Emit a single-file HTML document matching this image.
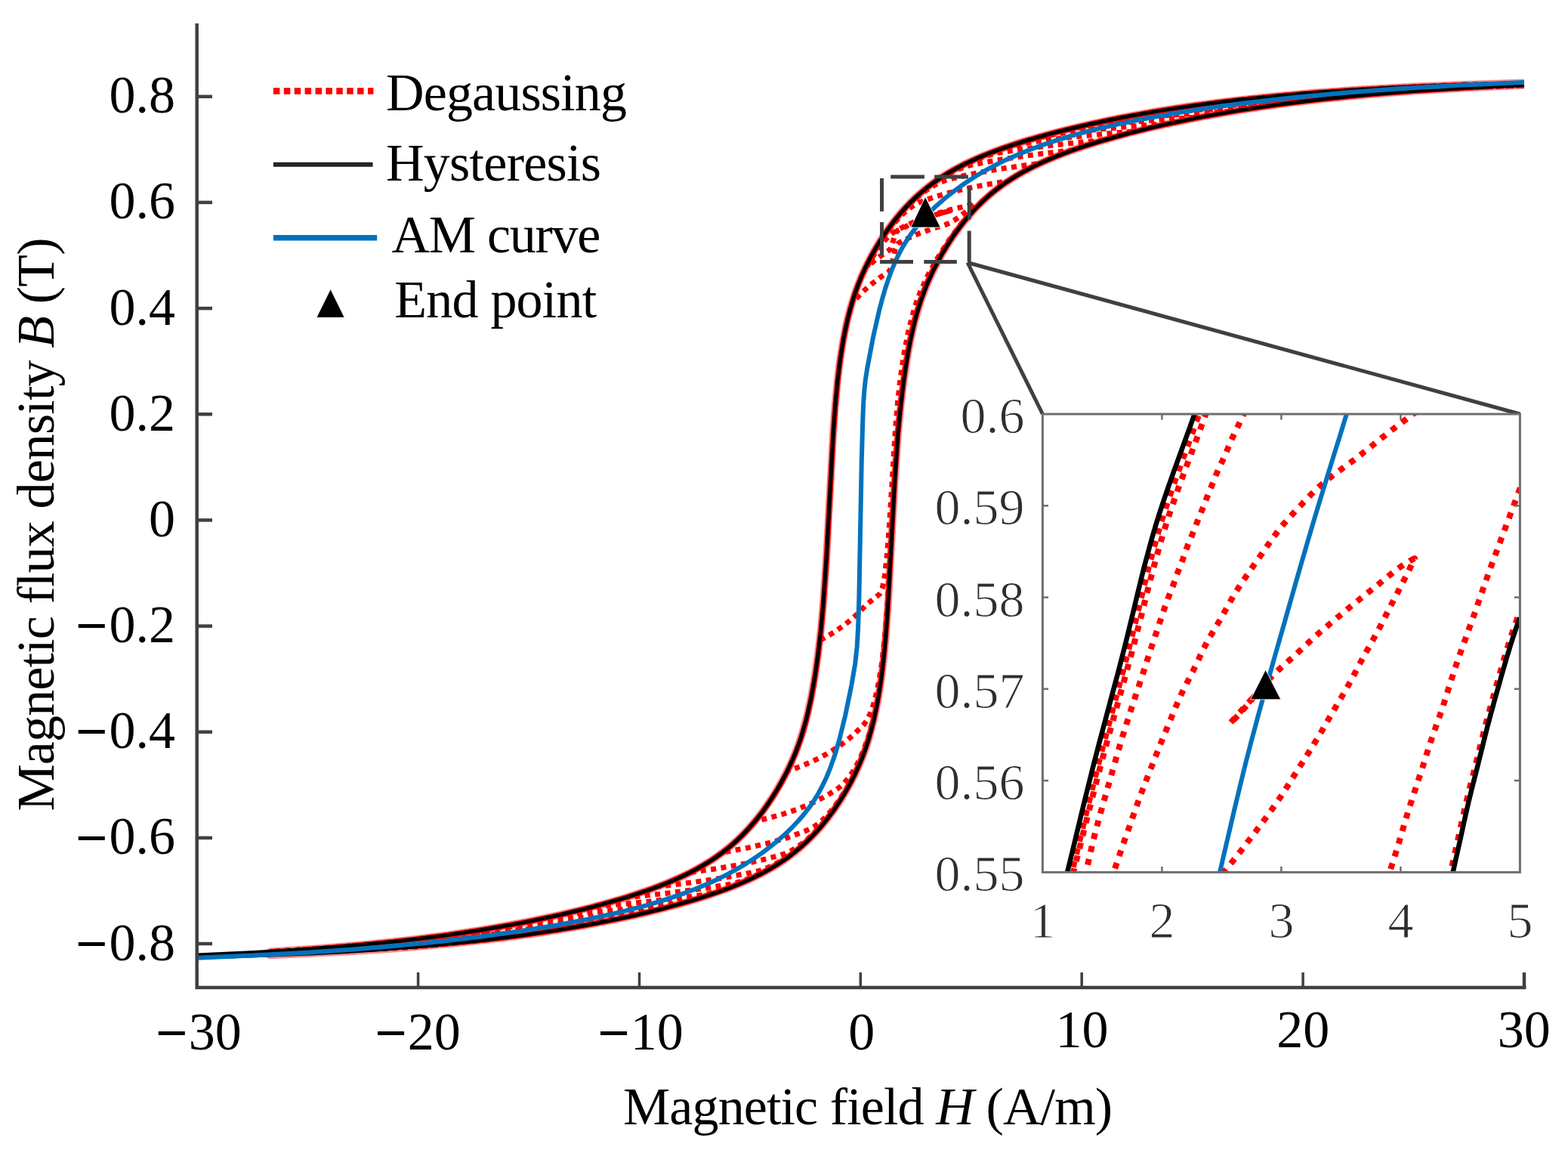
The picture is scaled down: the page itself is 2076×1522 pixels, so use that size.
<!DOCTYPE html><html><head><meta charset="utf-8"><title>Degaussing and AM curve</title><style>html,body{margin:0;padding:0;background:#fff;overflow:hidden}svg{display:block}</style></head><body>
<svg width="2076" height="1522" viewBox="0 0 2076 1522">
<rect width="2076" height="1522" fill="#fff"/>
<defs><clipPath id="cm"><rect x="260.7" y="0" width="1757.3" height="1522"/></clipPath><clipPath id="ci"><rect x="1380.4" y="548" width="632" height="606.4"/></clipPath></defs>
<g clip-path="url(#cm)" fill="none">
<path d="M2018.0 109.6L1940.4 111.9L1869.9 114.8L1804.1 118.3L1742.9 122.5L1686.5 127.4L1632.4 133.1L1580.7 139.7L1531.4 147.3L1482.0 156.2L1435.0 166.1L1390.3 177.1L1350.3 188.6L1317.4 199.9L1302.2 205.9L1288.0 212.0L1274.9 218.3L1262.6 224.8L1251.1 231.6L1240.2 238.7L1230.5 245.8L1221.3 253.2L1212.4 261.1L1203.9 269.4L1195.5 278.3L1187.5 287.8L1179.7 297.7L1172.1 308.4L1164.8 319.6L1157.7 331.3L1151.3 343.0L1145.3 355.1L1140.0 366.9L1135.2 379.0L1130.8 391.5L1126.8 404.4L1120.9 427.4L1116.0 452.4L1111.7 479.9L1108.2 509.9L1105.4 541.2L1102.9 576.9L1094.4 734.2L1090.0 798.3L1087.0 831.8L1083.3 863.8L1079.2 892.9L1074.6 919.2L1068.9 945.8L1062.6 969.1L1055.3 990.6L1046.7 1011.3L1035.8 1032.9L1023.4 1054.0L1008.9 1075.1L995.5 1091.6L986.6 1101.4L977.7 1110.3L968.8 1118.3L959.9 1125.6L951.0 1132.3L939.9 1139.8L928.8 1146.6L915.5 1153.9L902.1 1160.4L888.8 1166.3L859.9 1177.6L824.3 1189.2L786.5 1199.9L742.0 1210.7L695.3 1220.5L644.2 1229.7L593.1 1237.5L539.7 1244.2L481.9 1250.2L421.8 1255.2L357.4 1259.4L357.4 1264.2L459.6 1259.4L506.3 1256.5L550.8 1253.1L608.6 1247.8L664.2 1241.5L717.6 1234.2L768.7 1225.9L815.4 1216.9L857.7 1207.5L897.7 1197.2L935.5 1185.9L966.6 1174.9L993.3 1163.6L1006.6 1157.1L1017.8 1151.1L1028.4 1144.7L1038.3 1138.2L1047.8 1131.3L1057.1 1123.9L1065.9 1116.1L1074.4 1107.9L1082.6 1099.2L1090.6 1089.8L1098.4 1079.9L1105.9 1069.5L1113.2 1058.4L1120.2 1046.9L1126.7 1035.2L1132.7 1023.3L1137.9 1011.7L1142.8 999.8L1147.2 987.6L1151.1 975.0L1157.1 952.1L1162.3 927.1L1166.7 899.3L1170.3 868.6L1173.1 837.8L1175.6 802.7L1184.4 640.6L1188.9 575.3L1192.3 539.7L1196.1 507.6L1200.5 477.7L1205.3 451.0L1211.5 424.0L1218.4 400.4L1226.6 378.1L1236.3 356.7L1248.4 334.1L1262.0 312.6L1276.5 293.1L1291.9 275.5L1301.2 266.4L1310.8 257.7L1319.8 250.4L1331.5 241.8L1343.3 234.2L1355.0 227.3L1369.1 220.0L1383.3 213.4L1397.4 207.4L1413.8 201.1L1432.6 194.5L1451.4 188.5L1493.7 176.5L1540.8 165.1L1590.1 154.9L1641.8 145.9L1695.9 137.9L1752.3 131.1L1811.1 125.3L1874.6 120.3L1942.8 116.2L2018.0 112.8" stroke="#ff0000" stroke-width="10" stroke-opacity="0.45" stroke-linejoin="round"/>
<path d="M2105.1 110.0L1995.0 111.1L1940.8 112.0L1865.8 115.0L1790.8 119.1L1720.8 124.3L1655.8 130.5L1594.6 137.9L1536.6 146.4L1479.8 156.6L1426.2 168.2L1401.1 174.3L1377.3 180.7L1355.1 187.3L1334.6 193.9L1316.4 200.4L1299.4 207.1L1283.9 214.0L1269.6 221.2L1256.1 228.7L1243.5 236.7L1231.5 245.2L1220.4 254.2L1204.6 269.0L1189.6 285.5L1175.3 304.2L1162.1 324.3L1150.4 345.2L1140.4 366.5L1132.2 387.9L1125.2 411.1L1119.9 433.1L1115.5 456.2L1111.4 483.7L1108.2 511.9L1105.6 541.7L1102.9 579.9L1094.7 732.8L1090.4 797.7L1087.1 833.1L1083.6 863.9L1079.5 893.1L1075.1 918.8L1069.6 945.0L1063.4 968.0L1056.1 989.8L1047.6 1010.3L1036.8 1032.0L1024.5 1053.0L1011.0 1072.7L996.9 1090.4L988.4 1099.9L979.7 1108.8L970.6 1117.1L960.9 1125.1L951.0 1132.6L940.4 1139.7L929.3 1146.5L917.6 1152.9L905.0 1159.2L891.5 1165.3L861.9 1176.9L827.7 1188.3L788.7 1199.4L744.2 1210.3L696.5 1220.4L646.7 1229.4L594.6 1237.3L540.4 1244.2L483.3 1250.1L422.7 1255.2L357.7 1259.4L436.1 1257.8L503.5 1256.0L538.3 1253.9L582.6 1250.3L643.5 1244.0L701.7 1236.5L757.1 1227.8L809.5 1218.0L844.1 1210.6L876.6 1202.7L907.0 1194.5L934.8 1186.0L959.4 1177.5L981.7 1168.6L1001.9 1159.3L1020.0 1149.6L1036.7 1139.1L1052.0 1127.9L1066.3 1115.5L1079.8 1101.9L1093.0 1086.5L1105.3 1070.0L1117.0 1051.9L1127.5 1033.1L1134.5 1018.8L1141.0 1003.8L1146.6 988.7L1151.5 972.8L1155.9 956.2L1160.0 937.6L1163.5 918.4L1166.8 897.0L1170.9 861.1L1174.4 818.1L1177.3 770.5L1184.6 632.8L1187.3 593.2L1189.9 561.1L1193.7 524.3L1198.1 490.9L1203.1 460.7L1208.6 433.9L1215.4 408.5L1223.6 384.5L1233.5 361.3L1245.2 338.9L1259.3 316.1L1274.2 295.5L1282.1 285.9L1290.0 277.1L1298.5 268.5L1307.0 260.7L1317.3 252.1L1327.8 244.2L1338.9 236.7L1350.7 229.6L1363.2 222.8L1376.7 216.2L1391.4 209.7L1406.9 203.5L1424.2 197.3L1442.6 191.1L1483.9 179.0L1529.6 167.6L1578.5 157.2L1628.0 148.1L1679.5 140.1L1733.7 133.1L1790.5 127.1L1850.8 122.0L1915.5 117.7L1985.5 114.1L2062.2 111.2L1961.5 112.4L1903.2 113.5L1837.3 116.4L1767.9 120.7L1699.7 126.2L1636.1 132.7L1576.1 140.4L1519.3 149.4L1464.2 159.8L1412.6 171.4L1388.6 177.6L1366.1 183.9L1345.0 190.4L1325.7 197.0L1308.4 203.5L1292.3 210.2L1277.6 217.1L1263.9 224.2L1251.0 231.8L1239.0 239.8L1227.6 248.3L1216.7 257.4L1201.2 272.4L1186.5 289.2L1172.8 307.8L1159.9 328.0L1148.8 348.4L1139.1 369.6L1131.2 391.0L1124.5 413.9L1119.2 436.7L1114.8 460.6L1111.0 487.2L1107.8 516.5L1105.4 543.8L1103.1 577.7L1094.9 730.4L1090.5 796.1L1087.6 828.9L1084.0 860.5L1080.2 888.4L1075.8 915.0L1070.6 940.7L1064.4 964.6L1057.7 985.4L1049.5 1006.0L1039.5 1026.8L1027.8 1047.6L1014.9 1067.3L1001.5 1085.0L993.3 1094.6L984.8 1103.7L976.3 1112.0L967.2 1120.0L957.8 1127.5L947.9 1134.8L937.6 1141.5L926.8 1147.9L915.3 1154.1L903.0 1160.1L876.1 1171.6L845.1 1182.8L809.9 1193.6L767.7 1204.7L722.3 1215.1L674.6 1224.5L624.5 1232.9L573.0 1240.2L518.8 1246.6L461.4 1252.1L400.5 1256.7L476.0 1254.9L543.7 1252.8L570.9 1251.1L605.5 1248.0L662.9 1241.7L718.8 1234.0L771.8 1225.3L822.5 1215.3L855.9 1207.8L887.5 1199.9L916.5 1191.7L943.1 1183.2L966.6 1174.8L988.0 1165.9L1007.0 1156.8L1024.6 1146.9L1040.7 1136.4L1055.6 1124.9L1069.7 1112.3L1082.8 1098.5L1095.7 1083.0L1107.7 1066.4L1119.2 1048.2L1129.4 1029.4L1136.1 1015.2L1142.3 1000.4L1147.6 985.7L1152.3 970.3L1156.6 953.2L1160.5 935.5L1164.0 915.8L1166.9 895.9L1171.0 859.7L1174.5 816.0L1177.4 767.9L1184.5 635.3L1187.1 595.2L1189.7 562.7L1193.3 528.1L1197.6 493.9L1202.6 463.1L1207.9 437.1L1214.6 411.0L1222.2 388.0L1231.6 365.4L1243.0 342.8L1256.5 320.3L1271.2 299.5L1278.8 289.9L1286.7 280.8L1294.9 272.1L1303.1 264.2L1312.7 255.8L1323.0 247.7L1333.5 240.2L1344.7 233.1L1356.7 226.2L1369.3 219.7L1382.7 213.5L1397.1 207.4L1412.9 201.3L1430.2 195.2L1468.3 183.4L1511.0 172.1L1557.6 161.4L1605.3 152.1L1655.4 143.7L1707.5 136.4L1762.3 130.0L1819.7 124.5L1881.2 119.9L1947.4 116.0L2019.4 112.7L1926.9 114.0L1864.8 115.3L1807.7 118.1L1743.9 122.4L1677.4 128.3L1615.3 135.2L1556.4 143.3L1500.5 152.7L1447.8 163.3L1398.6 175.0L1376.0 181.1L1354.6 187.4L1334.7 193.8L1316.6 200.3L1300.2 206.8L1285.2 213.4L1271.2 220.3L1258.0 227.6L1245.7 235.2L1234.0 243.4L1223.2 251.9L1212.6 261.1L1197.7 276.2L1183.6 292.9L1170.2 311.6L1157.9 331.5L1147.0 352.0L1137.9 372.5L1130.3 393.6L1123.9 416.1L1118.9 438.0L1114.5 462.4L1111.0 487.1L1107.8 516.4L1105.1 547.5L1102.8 582.3L1094.9 730.3L1090.5 796.0L1087.6 828.8L1084.3 858.0L1080.5 886.4L1076.4 911.7L1071.2 938.1L1065.6 960.4L1059.2 981.2L1051.5 1001.2L1042.2 1021.6L1031.3 1041.6L1019.0 1061.3L1006.2 1079.1L998.2 1088.9L990.3 1097.9L982.1 1106.3L973.6 1114.4L964.9 1121.9L955.8 1129.1L946.1 1135.9L936.2 1142.4L914.5 1154.5L889.9 1166.0L862.1 1176.9L830.1 1187.5L791.2 1198.7L748.2 1209.4L702.5 1219.2L654.7 1228.0L605.5 1235.8L554.3 1242.6L500.4 1248.5L443.3 1253.6L516.8 1251.5L584.4 1249.0L605.5 1247.6L632.2 1245.1L684.6 1238.9L737.6 1231.1L788.0 1222.3L835.7 1212.5L867.9 1204.9L898.1 1197.0L925.9 1188.8L951.1 1180.5L973.6 1172.0L993.8 1163.2L1012.3 1153.9L1029.0 1144.2L1044.5 1133.6L1059.1 1121.9L1072.9 1109.1L1085.8 1095.2L1098.4 1079.5L1110.1 1062.8L1121.2 1044.7L1131.2 1025.9L1137.6 1011.9L1143.5 997.3L1148.5 982.9L1153.1 967.1L1157.2 950.6L1161.0 932.4L1164.3 913.9L1167.2 893.7L1171.0 859.6L1174.5 816.0L1177.4 767.9L1184.5 635.2L1189.4 566.0L1193.0 530.7L1197.4 496.0L1202.0 466.4L1207.3 439.7L1213.8 414.0L1221.4 390.4L1230.2 368.6L1241.0 346.6L1253.9 324.4L1268.2 303.4L1283.2 284.7L1291.1 276.1L1299.3 267.8L1308.3 259.5L1318.0 251.5L1328.3 243.9L1338.8 236.8L1349.9 230.0L1361.6 223.6L1374.2 217.3L1387.7 211.3L1402.3 205.3L1418.2 199.4L1453.3 187.8L1493.1 176.6L1536.5 166.0L1582.4 156.4L1630.8 147.6L1681.1 139.9L1733.5 133.2L1788.6 127.3L1846.9 122.3L1909.3 118.1L1976.6 114.5L1890.2 115.9L1825.5 117.5L1777.2 120.1L1719.8 124.4L1655.1 130.6L1594.2 137.9L1536.5 146.5L1481.4 156.3L1430.8 167.1L1384.2 178.8L1362.8 184.9L1342.9 191.1L1324.5 197.4L1307.5 203.8L1292.3 210.2L1277.9 216.9L1264.7 223.8L1252.1 231.1L1240.4 238.8L1229.3 246.9L1218.8 255.6L1208.8 264.7L1194.2 280.2L1180.4 297.1L1167.2 316.1L1155.2 336.2L1145.0 356.3L1136.5 376.2L1129.2 397.3L1123.0 419.6L1118.0 442.4L1113.9 466.1L1110.4 491.8L1107.5 519.4L1105.1 547.4L1102.8 582.1L1094.9 730.1L1090.8 792.1L1088.2 822.6L1084.9 853.0L1081.4 880.2L1077.3 906.6L1072.4 932.7L1066.8 956.1L1060.6 976.8L1053.6 996.2L1045.1 1015.6L1034.9 1035.4L1023.5 1054.6L1011.2 1072.5L996.2 1091.3L988.3 1100.0L980.4 1108.1L972.2 1115.7L963.4 1123.1L945.3 1136.5L925.1 1148.9L902.8 1160.2L877.6 1171.0L848.9 1181.5L813.5 1192.5L773.7 1203.3L730.6 1213.3L685.2 1222.5L638.7 1230.7L590.1 1237.9L539.4 1244.3L486.1 1249.9L555.8 1247.6L620.5 1244.8L639.9 1243.6L662.7 1241.4L708.7 1235.5L757.6 1227.8L804.5 1219.1L849.3 1209.4L880.0 1201.8L908.7 1194.0L935.1 1185.9L958.8 1177.7L980.2 1169.3L999.5 1160.5L1017.1 1151.3L1033.2 1141.5L1048.4 1130.6L1062.5 1119.0L1076.0 1106.0L1088.6 1091.9L1100.9 1076.2L1112.6 1059.0L1123.4 1040.8L1132.8 1022.5L1138.9 1008.8L1144.5 994.5L1149.5 979.7L1153.9 964.4L1158.0 947.4L1161.5 930.1L1164.7 911.2L1167.6 890.3L1171.4 855.0L1174.7 813.9L1177.6 765.3L1184.3 637.7L1189.3 567.7L1192.8 532.0L1196.9 499.1L1201.6 468.9L1206.9 441.7L1213.0 416.6L1220.3 393.2L1228.8 371.6L1238.8 350.7L1251.4 328.4L1265.2 307.6L1279.8 288.7L1295.0 272.0L1303.8 263.5L1312.9 255.6L1322.3 248.2L1332.2 241.1L1342.8 234.3L1353.6 227.9L1365.3 221.7L1377.9 215.6L1405.7 204.0L1437.7 192.7L1474.0 181.8L1514.4 171.2L1558.6 161.2L1605.2 152.1L1653.5 144.0L1703.9 136.8L1756.3 130.6L1811.7 125.2L1870.5 120.6L1933.8 116.7L1852.1 118.2L1785.6 120.0L1745.2 122.4L1694.8 126.6L1631.8 133.2L1572.1 141.0L1515.6 150.0L1461.7 160.3L1413.7 171.2L1370.0 182.8L1350.1 188.8L1331.7 194.9L1314.4 201.2L1298.6 207.5L1284.2 213.9L1270.7 220.5L1258.2 227.5L1246.1 234.9L1235.0 242.6L1224.5 250.8L1214.2 259.6L1204.6 269.0L1190.5 284.4L1177.0 301.7L1164.4 320.5L1153.0 340.2L1143.4 359.8L1135.2 379.7L1128.1 400.7L1122.3 422.7L1117.9 443.2L1113.8 467.1L1110.3 493.1L1107.3 521.1L1102.6 584.8L1095.0 727.8L1090.9 790.4L1088.3 821.3L1085.4 849.4L1082.1 875.1L1078.3 900.6L1073.7 926.4L1068.4 949.9L1062.5 970.9L1056.1 989.8L1048.2 1009.0L1038.8 1028.2L1028.3 1046.8L1016.5 1064.9L1002.2 1084.1L987.3 1101.1L971.4 1116.3L954.5 1130.0L936.0 1142.5L915.5 1154.0L892.7 1164.8L866.9 1175.1L835.0 1186.0L798.7 1196.7L758.8 1206.9L716.4 1216.4L672.4 1224.9L626.5 1232.6L578.7 1239.5L528.9 1245.5L588.7 1243.2L644.9 1240.5L675.1 1238.8L696.7 1236.7L735.4 1231.3L779.3 1223.9L822.1 1215.4L862.8 1206.2L892.4 1198.6L919.6 1190.8L944.5 1182.8L967.0 1174.6L987.2 1166.2L1005.7 1157.4L1022.4 1148.2L1037.9 1138.3L1052.5 1127.4L1066.3 1115.5L1079.5 1102.2L1091.8 1088.0L1103.8 1072.1L1115.2 1054.8L1125.5 1037.0L1134.5 1018.8L1140.4 1005.2L1145.7 991.2L1150.4 976.8L1154.7 961.0L1158.6 944.7L1162.1 926.9L1165.3 907.3L1167.9 887.9L1171.7 851.7L1175.0 809.5L1184.3 637.7L1189.0 571.1L1192.5 534.7L1196.3 503.4L1201.0 472.3L1206.0 445.8L1212.1 419.9L1218.9 397.5L1226.8 376.5L1236.5 355.3L1248.5 333.3L1261.6 312.6L1275.7 293.7L1290.6 276.5L1298.8 268.2L1307.6 260.1L1316.4 252.8L1325.8 245.6L1335.7 238.8L1346.0 232.3L1356.8 226.2L1368.2 220.2L1393.4 208.9L1422.4 197.9L1455.5 187.1L1492.4 176.8L1534.3 166.5L1578.8 157.1L1625.4 148.5L1673.7 141.0L1723.8 134.3L1776.5 128.5L1831.8 123.5L1891.0 119.2L1813.1 121.0L1745.4 123.1L1711.8 125.3L1668.7 129.2L1607.5 136.2L1549.2 144.4L1493.6 154.0L1441.2 164.7L1395.8 175.7L1355.1 187.3L1336.6 193.2L1319.6 199.2L1303.8 205.3L1289.2 211.6L1275.7 218.0L1263.1 224.7L1251.1 231.7L1240.0 239.1L1229.5 246.8L1219.2 255.2L1209.5 264.0L1200.2 273.5L1186.4 289.4L1173.5 306.7L1161.2 325.7L1150.4 345.2L1141.3 364.4L1133.7 383.7L1127.0 404.7L1121.4 426.4L1117.0 447.8L1113.2 470.9L1110.0 495.5L1107.1 524.2L1102.7 584.6L1095.0 727.5L1091.2 786.4L1088.9 814.8L1086.0 844.0L1082.7 870.6L1079.2 895.0L1074.8 920.3L1069.9 943.8L1064.3 965.0L1058.1 984.1L1051.1 1002.2L1042.6 1020.7L1033.0 1038.8L1022.1 1056.6L1008.7 1075.9L994.3 1093.5L979.4 1109.0L963.3 1123.2L946.0 1136.0L927.2 1147.7L906.5 1158.5L883.3 1168.7L854.9 1179.4L822.4 1189.9L786.4 1200.0L747.2 1209.6L705.9 1218.5L662.8 1226.6L618.3 1233.9L571.7 1240.4L673.6 1235.4L714.9 1232.9L732.8 1231.0L764.4 1226.4L801.9 1219.5L840.0 1211.5L876.3 1202.8L904.4 1195.2L930.2 1187.5L953.6 1179.6L975.0 1171.4L994.0 1163.1L1011.6 1154.3L1027.7 1145.0L1042.6 1135.0L1056.7 1124.0L1070.1 1111.8L1082.7 1098.7L1094.7 1084.3L1106.4 1068.3L1117.6 1050.9L1127.5 1033.1L1136.3 1014.9L1142.2 1000.8L1147.1 986.9L1151.5 972.8L1155.6 957.4L1159.4 940.5L1162.7 923.6L1165.6 905.3L1168.2 885.5L1171.7 851.6L1175.0 809.4L1184.3 637.7L1189.0 571.1L1192.2 537.4L1196.0 505.5L1200.4 475.8L1205.4 448.6L1211.3 423.2L1217.7 401.0L1225.3 380.0L1234.4 359.5L1245.5 338.4L1258.1 317.8L1271.6 298.9L1285.9 281.6L1293.8 273.2L1302.0 265.2L1310.5 257.6L1319.3 250.5L1328.4 243.8L1338.1 237.2L1358.6 225.2L1381.7 213.9L1407.7 203.2L1437.6 192.7L1471.0 182.6L1510.2 172.2L1552.7 162.5L1596.9 153.6L1643.2 145.6L1690.9 138.5L1740.7 132.3L1792.8 126.9L1848.1 122.2L1772.6 124.2L1704.6 126.7L1676.8 128.6L1641.1 132.2L1582.5 139.5L1525.4 148.3L1471.5 158.3L1420.6 169.5L1378.4 180.4L1340.9 191.8L1324.2 197.5L1308.4 203.5L1293.7 209.6L1280.0 215.9L1267.4 222.3L1255.4 229.1L1244.2 236.2L1233.7 243.6L1223.5 251.6L1213.8 260.0L1204.4 269.1L1195.6 278.5L1182.4 294.5L1169.9 312.1L1158.1 331.0L1147.9 350.2L1139.4 368.9L1132.1 388.3L1125.9 408.4L1120.4 431.1L1116.3 452.0L1112.7 474.1L1109.5 499.5L1106.9 526.0L1102.5 587.3L1095.2 725.3L1091.7 780.7L1086.7 837.4L1083.8 862.8L1080.2 888.4L1076.1 913.4L1071.4 936.8L1066.5 957.3L1060.6 976.9L1054.2 994.8L1046.6 1012.5L1037.8 1030.1L1027.8 1047.6L1014.9 1067.3L1001.5 1085.0L987.1 1101.3L971.9 1116.0L955.8 1129.1L938.5 1140.9L919.4 1151.9L898.4 1162.3L873.2 1172.7L844.8 1182.9L812.8 1192.7L777.4 1202.3L739.3 1211.4L699.2 1219.8L657.6 1227.5L614.6 1234.4L705.9 1229.4L756.6 1225.8L770.4 1224.3L795.3 1220.5L825.4 1214.6L857.9 1207.3L889.6 1199.3L916.2 1191.8L940.5 1184.1L962.5 1176.3L982.7 1168.2L1000.8 1159.9L1017.5 1151.0L1032.8 1141.7L1047.1 1131.6L1060.9 1120.4L1073.8 1108.2L1086.1 1094.9L1097.8 1080.3L1109.2 1064.2L1120.0 1046.7L1129.7 1028.8L1137.9 1011.2L1143.2 998.1L1147.9 984.8L1152.3 970.3L1156.1 955.6L1159.6 939.8L1162.8 922.8L1165.7 904.3L1168.4 884.3L1171.9 850.0L1175.1 807.3L1184.2 640.2L1188.9 572.8L1192.1 538.8L1195.9 506.6L1200.0 478.5L1204.7 452.3L1210.2 427.2L1216.4 405.2L1223.4 384.9L1231.9 364.8L1242.5 343.9L1254.5 323.5L1267.3 304.6L1281.1 287.1L1296.3 270.7L1312.4 256.0L1330.0 242.6L1349.1 230.5L1370.1 219.3L1393.6 208.8L1420.2 198.6L1450.4 188.7L1486.7 178.3L1526.2 168.4L1568.4 159.2L1612.3 150.8L1657.4 143.4L1704.6 136.7L1753.8 130.9L1805.3 125.8L1731.2 128.1L1663.3 130.9L1640.2 132.7L1611.2 135.8L1555.8 143.4L1500.8 152.7L1448.4 163.2L1399.7 174.7L1360.8 185.5L1326.2 196.8L1310.7 202.6L1296.4 208.4L1282.9 214.5L1270.3 220.8L1258.6 227.2L1247.5 234.1L1236.9 241.2L1227.0 248.8L1217.3 256.9L1208.2 265.3L1199.1 274.6L1190.7 284.3L1178.1 300.3L1166.1 317.9L1155.2 336.2L1145.6 355.0L1137.6 373.2L1130.6 392.7L1124.8 412.7L1119.5 435.2L1115.7 455.3L1112.2 478.2L1109.2 502.1L1106.6 529.2L1102.5 587.1L1095.2 725.0L1092.0 776.5L1087.3 831.6L1081.4 880.3L1077.3 906.6L1072.9 929.9L1068.2 950.4L1063.0 969.5L1057.1 987.0L1050.4 1004.0L1042.5 1021.0L1033.7 1037.5L1021.7 1057.3L1008.5 1076.1L995.0 1092.6L980.7 1107.8L965.7 1121.2L949.6 1133.5L932.1 1144.9L913.0 1155.3L891.1 1165.5L866.2 1175.4L838.1 1185.0L807.0 1194.4L772.8 1203.5L735.9 1212.2L697.5 1220.2L657.4 1227.6L740.5 1222.3L785.1 1218.8L808.5 1216.5L827.5 1213.5L850.7 1208.8L876.7 1202.6L903.1 1195.6L928.0 1188.2L950.8 1180.6L971.6 1172.8L990.3 1164.8L1007.6 1156.4L1023.4 1147.6L1038.1 1138.2L1051.5 1128.2L1065.0 1116.7L1077.6 1104.3L1089.6 1090.7L1101.0 1076.0L1112.1 1059.7L1122.4 1042.6L1131.5 1025.3L1139.4 1007.7L1144.4 994.9L1149.0 981.1L1153.1 967.1L1156.9 951.9L1160.5 935.4L1163.4 919.3L1168.7 881.8L1172.2 846.6L1175.1 807.2L1184.2 640.2L1188.6 576.3L1191.8 541.5L1195.3 511.1L1199.4 482.2L1203.8 456.8L1209.1 432.0L1214.9 410.0L1221.7 389.6L1229.6 370.0L1239.2 349.9L1250.7 329.6L1263.0 310.7L1276.1 293.1L1290.5 276.7L1305.7 261.8L1322.1 248.3L1339.7 236.2L1359.0 225.0L1380.4 214.5L1404.1 204.6L1431.0 194.9L1463.8 184.7L1500.4 174.7L1539.7 165.3L1581.3 156.6L1624.0 148.8L1668.2 141.8L1714.5 135.5L1762.5 129.9L1689.3 132.7L1621.4 136.0L1602.3 137.5L1578.6 140.3L1527.7 148.0L1475.0 157.6L1425.5 168.3L1379.8 180.0L1343.8 190.8L1312.5 201.9L1285.2 213.4L1272.9 219.4L1261.2 225.7L1250.4 232.2L1239.8 239.2L1229.9 246.5L1220.2 254.3L1211.2 262.5L1202.4 271.2L1193.9 280.5L1185.7 290.3L1173.4 306.9L1162.0 324.5L1151.7 342.7L1142.6 361.4L1135.3 379.3L1128.9 398.2L1123.3 418.4L1118.3 440.9L1114.8 460.5L1111.6 482.4L1108.7 507.4L1106.3 532.5L1102.2 591.8L1095.5 719.5L1092.0 776.2L1087.6 828.5L1082.3 873.8L1078.5 899.5L1074.4 922.5L1070.0 943.1L1065.3 961.4L1060.1 978.6L1053.9 995.4L1047.2 1011.2L1039.3 1027.3L1028.1 1047.0L1015.9 1065.9L1003.0 1083.2L989.5 1098.8L975.4 1112.7L960.5 1125.4L944.4 1137.1L927.1 1147.7L907.8 1157.9L886.1 1167.6L862.1 1176.9L835.2 1186.0L805.0 1194.9L771.9 1203.7L736.8 1212.0L700.2 1219.7L778.4 1214.0L847.5 1207.5L861.9 1205.1L878.9 1201.5L897.9 1196.8L918.1 1191.1L940.9 1183.9L962.0 1176.5L981.4 1168.8L998.9 1160.8L1015.0 1152.4L1030.0 1143.5L1043.7 1134.1L1056.9 1123.8L1069.8 1112.1L1081.8 1099.7L1093.5 1085.8L1104.7 1070.9L1115.2 1054.8L1125.2 1037.5L1133.7 1020.7L1141.3 1003.0L1146.0 990.4L1150.3 976.8L1154.4 962.1L1158.0 947.4L1164.1 914.9L1169.1 878.0L1172.3 845.0L1175.2 805.0L1184.0 642.7L1188.4 578.1L1191.4 545.9L1194.9 514.6L1198.7 487.0L1203.1 460.7L1208.0 436.4L1213.6 414.5L1220.1 394.1L1227.4 375.0L1236.5 355.3L1246.7 336.3L1258.4 317.4L1270.7 300.0L1284.2 283.6L1298.5 268.5L1313.8 254.9L1330.2 242.5L1348.0 231.1L1367.4 220.7L1389.0 210.7L1413.1 201.2L1442.6 191.1L1475.4 181.4L1511.5 171.9L1550.1 163.0L1590.2 154.9L1631.8 147.5L1674.9 140.8L1719.7 134.8L1651.5 137.8L1587.3 141.3L1566.8 142.8L1544.0 145.7L1497.7 153.3L1448.2 163.2L1401.9 174.1L1360.1 185.7L1327.6 196.3L1298.9 207.4L1286.0 213.1L1273.7 219.0L1262.3 225.1L1251.4 231.6L1241.2 238.3L1231.5 245.2L1222.1 252.7L1213.1 260.7L1204.6 269.0L1196.1 278.0L1187.9 287.6L1180.0 297.7L1168.5 314.1L1158.0 331.2L1148.3 349.3L1140.1 367.1L1133.1 385.3L1127.2 403.7L1122.0 423.9L1117.3 446.3L1113.8 467.1L1110.8 488.3L1108.2 511.9L1105.9 538.1L1102.1 594.6L1095.6 717.2L1092.4 770.2L1088.3 821.2L1083.6 863.9L1080.1 889.3L1076.3 912.5L1072.2 933.4L1067.8 952.2L1063.1 969.0L1057.8 985.0L1051.7 1000.9L1045.0 1015.9L1035.0 1035.2L1023.6 1054.4L1011.6 1071.9L998.7 1088.4L985.5 1103.0L971.7 1116.1L956.8 1128.3L941.0 1139.3L924.0 1149.5L905.3 1159.1L884.5 1168.3L861.6 1177.0L835.9 1185.7L807.2 1194.3L776.1 1202.6L743.0 1210.6L818.3 1204.3L886.5 1197.0L897.1 1195.3L909.1 1192.7L936.3 1185.2L956.2 1178.5L975.5 1171.1L993.1 1163.5L1009.5 1155.4L1024.4 1147.0L1038.5 1137.9L1051.4 1128.3L1063.7 1117.9L1075.7 1106.3L1087.4 1093.3L1098.5 1079.3L1109.1 1064.4L1119.3 1047.9L1128.4 1031.4L1136.3 1014.9L1143.3 997.7L1147.7 985.2L1151.8 971.8L1155.6 957.4L1158.8 943.3L1164.7 911.1L1169.4 875.3L1172.3 844.9L1175.2 805.0L1184.0 642.7L1188.1 581.7L1191.1 548.8L1194.3 519.4L1197.8 492.9L1201.9 467.2L1206.6 443.1L1211.9 421.0L1217.7 401.0L1224.4 382.2L1232.6 363.2L1242.0 344.7L1252.6 326.5L1264.3 308.8L1277.2 291.9L1290.6 276.5L1305.0 262.5L1320.2 249.8L1336.6 238.2L1354.2 227.6L1373.8 217.6L1395.5 208.0L1421.5 198.2L1450.8 188.6L1483.3 179.2L1518.4 170.2L1555.9 161.8L1594.9 154.0L1635.3 146.9L1676.9 140.5L1615.7 143.6L1557.7 147.2L1529.3 149.3L1507.3 152.1L1466.3 159.5L1420.7 169.5L1378.2 180.5L1340.4 191.9L1310.6 202.6L1284.5 213.8L1272.5 219.6L1261.4 225.6L1250.8 231.9L1240.9 238.5L1231.2 245.5L1222.1 252.7L1213.4 260.4L1204.9 268.7L1196.7 277.4L1188.5 286.9L1180.8 296.6L1173.2 307.1L1162.7 323.3L1153.0 340.2L1144.5 357.2L1137.2 374.3L1130.8 392.2L1125.2 411.0L1120.5 430.3L1116.1 452.7L1112.9 472.9L1110.3 493.0L1105.6 541.6L1102.1 594.3L1095.6 716.8L1092.7 765.6L1088.9 814.7L1084.5 856.6L1081.3 881.2L1077.8 903.9L1074.0 924.8L1070.2 942.5L1065.8 959.8L1061.1 975.5L1055.8 990.5L1050.0 1004.9L1041.2 1023.6L1030.9 1042.3L1019.8 1060.1L1007.8 1077.0L995.5 1092.1L982.6 1105.9L969.1 1118.3L954.8 1129.8L939.9 1140.1L923.5 1149.8L905.6 1158.9L886.3 1167.5L864.6 1176.0L840.6 1184.2L814.2 1192.3L785.8 1200.1L855.8 1193.5L917.9 1186.0L928.7 1184.5L937.5 1182.7L947.8 1180.1L958.9 1176.7L975.6 1170.7L992.0 1163.9L1007.8 1156.2L1022.4 1148.1L1035.9 1139.6L1048.8 1130.3L1060.8 1120.5L1072.2 1109.8L1083.6 1097.7L1094.4 1084.7L1105.0 1070.4L1114.9 1055.2L1124.3 1039.1L1132.5 1023.1L1139.8 1006.6L1146.0 990.4L1153.6 965.4L1160.0 937.6L1165.3 907.2L1169.7 872.6L1172.6 841.3L1175.5 800.3L1183.7 647.7L1187.8 585.4L1190.5 554.8L1193.4 526.8L1196.9 499.1L1200.7 474.0L1205.1 450.1L1210.1 427.8L1215.7 407.6L1221.8 389.2L1229.1 371.0L1237.3 353.6L1247.0 335.8L1257.5 318.7L1269.8 301.2L1282.7 285.3L1296.2 270.8L1310.2 257.9L1325.2 246.1L1341.6 235.0L1359.4 224.8L1379.0 215.1L1401.9 205.5L1427.3 196.2L1456.0 187.0L1487.4 178.1L1521.6 169.5L1557.6 161.4L1595.1 153.9L1634.1 147.1L1578.4 150.3L1525.4 154.0L1488.8 157.0L1469.5 159.6L1434.0 166.6L1393.3 176.4L1355.5 187.1L1322.1 198.3L1295.2 208.9L1271.2 220.3L1250.1 232.4L1240.1 239.0L1230.8 245.8L1221.7 253.1L1212.9 260.8L1204.7 268.8L1196.5 277.5L1188.6 286.7L1181.0 296.4L1173.7 306.5L1166.3 317.5L1156.7 333.6L1148.2 349.6L1140.6 366.1L1134.1 382.5L1128.6 399.3L1123.6 417.3L1119.2 436.6L1115.1 458.8L1109.8 496.9L1105.4 543.8L1101.9 597.3L1093.1 759.4L1089.6 806.7L1085.5 848.1L1079.4 894.2L1075.8 915.0L1072.3 932.8L1068.5 949.3L1064.4 964.6L1059.7 979.5L1054.8 993.3L1047.1 1011.3L1038.4 1029.0L1028.4 1046.6L1017.6 1063.5L1006.1 1079.1L994.4 1093.3L982.1 1106.4L969.2 1118.3L956.1 1128.9L942.3 1138.5L927.4 1147.6L911.0 1156.3L893.1 1164.6L873.8 1172.5L852.4 1180.3L828.7 1188.0L884.6 1182.0L933.5 1175.6L966.9 1170.3L975.4 1168.2L984.5 1165.4L997.6 1160.2L1011.4 1153.8L1024.6 1146.5L1037.5 1138.4L1049.5 1129.7L1061.2 1120.0L1072.0 1109.9L1082.6 1098.8L1093.1 1086.4L1103.1 1073.1L1112.7 1058.7L1121.8 1043.6L1130.0 1028.2L1137.0 1013.2L1143.2 998.1L1148.7 982.0L1155.8 956.8L1161.6 929.3L1166.3 900.2L1170.4 865.6L1173.1 835.9L1175.7 798.0L1183.6 650.4L1187.4 591.2L1189.7 562.7L1192.7 533.3L1195.6 508.9L1199.1 484.1L1203.2 459.9L1207.9 437.1L1212.9 417.2L1218.1 399.7L1224.6 381.9L1231.9 364.8L1240.4 347.7L1249.8 331.1L1261.2 313.3L1273.5 296.4L1286.4 281.1L1299.9 267.2L1313.9 254.8L1328.8 243.4L1345.2 232.8L1362.8 223.0L1382.7 213.5L1405.0 204.3L1429.9 195.3L1457.4 186.6L1487.9 178.0L1520.7 169.7L1555.2 161.9L1591.2 154.7L1540.6 158.0L1492.0 161.9L1447.8 165.9L1431.4 168.3L1401.5 174.6L1366.6 183.9L1333.8 194.2L1304.9 204.9L1280.3 215.8L1258.3 227.4L1248.3 233.5L1238.7 240.0L1229.3 246.9L1220.5 254.1L1211.7 261.9L1203.5 270.0L1195.6 278.5L1187.7 287.8L1180.1 297.5L1172.8 307.7L1159.0 329.5L1150.5 344.9L1143.2 360.1L1136.8 375.4L1131.2 390.9L1126.2 407.3L1121.6 425.8L1117.5 445.5L1113.9 466.0L1109.0 504.7L1104.9 551.3L1101.6 602.1L1093.4 754.4L1090.2 799.4L1086.7 837.2L1081.4 880.2L1075.0 919.5L1068.0 951.5L1063.9 966.5L1059.5 980.3L1053.3 996.9L1046.0 1013.7L1037.8 1030.1L1028.4 1046.5L1018.5 1062.1L1007.9 1076.8L996.8 1090.6L985.4 1103.1L974.0 1114.1L962.3 1124.1L949.7 1133.5L936.2 1142.4L921.8 1150.7L906.3 1158.6L889.6 1166.1L871.5 1173.4L917.5 1167.7L957.0 1161.9L994.5 1154.9L1003.8 1152.8L1011.4 1150.4L1022.0 1145.9L1032.8 1140.1L1043.6 1133.2L1054.5 1125.2L1065.0 1116.3L1075.0 1106.7L1084.9 1096.0L1094.3 1084.7L1103.7 1072.2L1112.7 1058.7L1121.2 1044.6L1128.8 1030.5L1135.6 1016.5L1141.7 1001.9L1147.0 987.4L1151.7 972.3L1157.8 948.0L1163.1 921.0L1167.5 891.3L1171.0 859.5L1173.6 828.2L1176.0 793.2L1183.6 650.3L1187.1 595.1L1191.8 541.5L1197.7 493.9L1201.5 469.7L1205.6 447.9L1209.9 428.4L1214.9 410.0L1220.5 392.8L1226.6 376.8L1234.0 360.4L1242.2 344.4L1253.0 325.8L1264.4 308.6L1276.7 292.4L1289.3 277.9L1302.5 264.8L1316.2 252.9L1331.2 241.8L1347.3 231.6L1364.8 221.9L1384.2 212.8L1405.5 204.0L1429.0 195.6L1455.3 187.2L1484.3 178.9L1515.6 170.9L1548.4 163.4L1501.9 166.9L1457.1 170.9L1406.4 176.2L1393.3 178.2L1369.0 183.7L1340.8 192.0L1313.6 201.5L1289.0 211.7L1266.5 222.8L1246.0 235.0L1236.6 241.4L1227.6 248.3L1218.8 255.6L1210.6 263.0L1202.4 271.2L1194.5 279.8L1186.9 288.9L1179.2 298.7L1164.9 319.7L1152.0 342.1L1144.7 356.9L1138.3 371.7L1132.7 386.5L1127.7 402.1L1123.3 418.3L1119.2 436.4L1115.7 455.1L1112.5 475.8L1108.1 513.0L1104.6 555.0L1101.4 606.8L1093.8 749.3L1090.8 791.7L1087.6 828.3L1082.9 869.2L1077.4 906.4L1071.2 937.9L1064.2 965.4L1059.2 981.1L1053.7 996.1L1047.2 1011.1L1040.2 1025.5L1032.0 1040.5L1023.2 1054.9L1013.8 1068.8L1004.2 1081.7L994.8 1092.9L984.9 1103.6L974.6 1113.5L963.8 1122.8L952.7 1131.4L940.6 1139.6L928.1 1147.2L914.3 1154.6L953.5 1148.9L987.2 1142.9L1016.5 1136.3L1030.9 1132.4L1039.9 1129.5L1047.8 1125.8L1056.3 1120.7L1065.1 1114.1L1073.9 1106.4L1082.7 1097.5L1091.5 1087.6L1100.0 1076.8L1108.2 1065.3L1116.1 1053.1L1123.4 1040.6L1130.1 1027.8L1136.3 1014.8L1141.6 1002.2L1146.5 988.6L1150.9 974.8L1155.0 959.8L1160.3 936.2L1164.7 911.1L1168.5 883.1L1171.7 851.7L1176.1 790.9L1183.4 653.0L1186.7 601.3L1190.8 551.8L1196.0 505.5L1199.6 481.3L1203.4 459.1L1207.5 439.0L1211.9 421.0L1216.8 403.8L1222.1 388.4L1228.3 373.0L1235.0 358.3L1244.7 339.9L1255.2 322.3L1266.6 305.6L1278.6 290.1L1290.9 276.2L1303.8 263.5L1317.3 252.1L1331.9 241.3L1347.4 231.5L1364.1 222.3L1382.3 213.6L1402.5 205.2L1425.1 196.9L1449.7 188.9L1476.6 181.0L1505.6 173.4L1462.3 177.2L1421.0 181.3L1378.5 186.3L1356.3 189.5L1337.5 194.1L1316.1 201.0L1294.8 209.3L1274.6 218.7L1253.8 230.1L1244.1 236.3L1234.7 242.8L1217.4 256.7L1201.3 272.3L1193.4 281.0L1185.8 290.1L1171.2 310.1L1157.7 331.7L1146.0 354.1L1139.8 367.8L1134.6 381.2L1129.6 395.9L1125.2 411.0L1121.1 427.7L1117.6 444.7L1114.4 463.3L1111.4 483.6L1107.6 517.8L1104.1 561.7L1101.2 610.1L1094.2 742.6L1091.5 782.5L1088.6 818.0L1084.8 854.3L1080.1 889.3L1074.8 920.3L1069.0 947.4L1065.5 960.9L1061.4 974.6L1057.0 987.4L1052.0 1000.1L1046.4 1012.8L1040.3 1025.3L1033.5 1037.8L1026.2 1050.1L1018.6 1061.9L1010.7 1073.1L1002.5 1083.7L994.0 1093.8L985.2 1103.2L976.2 1112.1L966.8 1120.4L957.1 1128.1L989.9 1122.1L1018.0 1115.7L1042.6 1108.6L1064.6 1100.5L1073.1 1096.8L1078.3 1093.8L1084.8 1089.1L1091.2 1083.2L1098.2 1075.6L1105.3 1066.9L1112.3 1057.2L1119.3 1046.3L1125.8 1035.2L1131.6 1024.0L1137.2 1012.1L1142.2 1000.1L1146.6 988.1L1150.7 975.4L1157.7 948.3L1162.1 926.6L1165.9 903.0L1169.1 877.7L1172.0 848.1L1176.4 785.7L1183.2 658.1L1186.1 609.6L1189.9 561.0L1194.6 516.9L1197.8 492.8L1201.3 470.5L1205.1 450.0L1208.9 432.6L1213.0 416.6L1217.7 401.0L1223.0 386.0L1228.8 371.6L1237.0 354.2L1246.7 336.3L1256.9 319.6L1268.1 303.6L1279.5 289.0L1291.2 275.9L1303.5 263.8L1316.7 252.6L1330.1 242.5L1344.5 233.2L1360.0 224.5L1377.0 216.1L1395.4 208.0L1415.9 200.2L1438.5 192.5L1462.8 185.0L1422.1 189.1L1384.0 193.4L1348.9 198.1L1321.4 202.4L1307.9 205.8L1293.0 211.0L1277.5 217.7L1262.0 225.6L1243.2 237.0L1225.6 249.9L1209.5 264.1L1194.3 280.0L1179.7 298.1L1165.9 318.1L1153.3 339.6L1142.5 361.7L1136.9 375.0L1132.0 388.6L1127.6 402.6L1123.5 417.7L1119.7 434.3L1116.5 450.9L1113.2 470.7L1110.6 490.3L1107.1 523.8L1103.9 565.5L1094.5 737.0L1089.8 804.3L1086.6 838.2L1083.1 868.1L1079.0 896.6L1074.3 923.1L1069.0 947.3L1062.9 969.8L1055.9 990.4L1047.7 1010.1L1037.7 1030.2L1026.0 1050.5L1013.4 1069.4L999.9 1086.9L1019.8 1082.1L1038.0 1077.0L1054.7 1071.3L1070.2 1065.1L1080.4 1060.3L1090.4 1055.2L1100.0 1049.6L1109.1 1043.7L1112.9 1040.9L1116.7 1037.4L1124.3 1028.4L1129.6 1020.5L1134.6 1011.8L1139.3 1002.3L1143.7 992.1L1151.3 970.4L1158.0 944.7L1162.4 923.0L1166.2 899.3L1169.4 873.6L1172.3 843.3L1176.4 784.5L1183.2 657.2L1186.1 608.9L1189.6 563.6L1194.0 521.2L1200.1 477.2L1203.7 457.2L1207.2 440.0L1211.0 424.1L1215.4 408.3L1220.0 393.9L1225.3 379.9L1232.3 363.7L1240.5 347.3L1249.6 331.3L1259.3 316.1L1269.5 301.6L1280.0 288.4L1290.9 276.2L1302.3 264.9L1313.7 255.0L1326.0 245.5L1338.9 236.7L1352.6 228.5L1367.3 220.7L1383.4 213.2L1400.9 205.8L1420.0 198.7L1381.0 203.2L1345.9 207.9L1315.1 212.8L1288.2 217.8L1279.1 220.2L1269.1 223.9L1258.6 228.9L1248.1 234.7L1231.9 245.4L1216.4 257.9L1201.8 272.0L1187.7 287.9L1174.3 305.7L1161.7 325.0L1150.2 345.5L1140.6 366.1L1135.3 379.3L1130.3 393.6L1125.9 408.4L1122.1 423.3L1118.6 439.5L1115.4 457.0L1112.5 476.1L1109.8 496.9L1106.3 532.8L1103.4 573.0L1094.9 730.3L1091.1 788.5L1086.4 840.1L1083.5 865.1L1080.2 888.4L1076.7 910.0L1073.2 928.5L1069.4 945.7L1065.0 962.5L1060.3 977.8L1055.1 992.5L1049.2 1006.7L1042.8 1020.4L1059.4 1014.5L1075.0 1007.9L1085.2 1002.9L1094.9 997.6L1104.2 991.9L1113.3 985.8L1121.5 979.7L1129.1 973.3L1143.5 959.1L1147.9 953.1L1152.3 944.0L1156.4 932.4L1160.2 918.2L1164.0 899.9L1167.2 879.8L1170.1 856.3L1172.8 828.7L1176.6 774.1L1185.9 605.8L1189.5 560.7L1193.3 523.6L1199.1 480.6L1205.8 443.9L1209.7 427.4L1213.5 413.2L1217.9 399.0L1222.5 385.9L1228.4 371.7L1234.8 357.9L1242.2 343.9L1250.4 329.7L1258.8 316.5L1267.9 303.6L1277.0 291.9L1286.7 280.7L1296.0 270.9L1306.0 261.5L1316.2 252.9L1327.1 244.7L1338.5 237.0L1350.5 229.7L1363.4 222.7L1377.1 216.0L1323.0 223.7L1299.9 227.8L1279.1 232.0L1262.4 235.9L1249.8 239.4L1241.3 242.9L1232.5 247.7L1220.5 256.0L1208.5 266.2L1196.5 278.2L1184.8 291.8L1173.7 306.7L1162.9 323.2L1152.9 340.5L1144.1 358.2L1138.0 372.4L1132.7 386.5L1128.0 401.1L1123.6 417.1L1119.8 433.6L1116.3 451.7L1113.1 471.7L1110.5 491.5L1107.2 522.1L1104.3 559.0L1101.4 606.6L1093.2 758.4L1089.7 805.9L1085.6 847.5L1096.4 841.5L1106.6 835.2L1116.3 828.4L1125.4 821.3L1133.6 814.0L1148.8 798.9L1164.6 786.2L1166.3 783.4L1168.1 778.4L1169.9 770.8L1171.6 760.1L1174.8 730.4L1177.8 690.7L1185.4 569.2L1188.6 531.3L1192.1 500.1L1197.4 465.1L1203.5 434.7L1210.5 408.6L1214.3 397.2L1218.7 385.7L1228.4 364.6L1240.4 342.9L1255.0 320.0L1270.2 299.3L1285.2 281.8L1300.7 266.1L1316.8 252.3L1334.3 239.6L1310.0 243.6L1288.1 247.7L1268.5 252.1L1250.7 256.7L1233.1 262.1L1217.0 268.0L1210.3 271.5L1203.0 276.5L1192.2 286.2L1181.3 298.3L1170.5 312.6L1160.0 328.8L1150.3 346.0L1141.9 363.6L1134.5 381.7L1128.4 400.1L1134.8 394.1L1145.1 383.6L1153.0 376.6L1164.4 367.8L1177.8 358.7L1179.9 353.1L1185.4 329.6L1187.5 324.5L1189.5 321.8L1202.4 315.3L1217.3 308.8L1233.7 302.9L1252.4 297.2L1257.7 294.9L1263.6 291.5L1270.6 286.7L1291.6 270.0L1259.7 277.2L1245.7 281.1L1232.5 285.2L1219.9 289.8L1208.2 294.6L1196.8 300.0L1185.9 305.7L1181.5 308.7L1176.8 312.6L1172.2 317.4L1167.2 323.2L1157.5 336.7L1148.1 352.8L1161.9 341.6L1178.6 330.2L1180.3 326.2L1185.0 310.4L1186.5 307.4L1188.2 305.4L1204.0 297.5L1221.3 290.3L1239.8 283.9L1260.0 278.2L1236.1 285.1L1214.5 293.0L1223.3 289.5" stroke="#ff0000" stroke-width="7" stroke-dasharray="7 6.5"/>
<path d="M2018.0 109.6L1942.8 111.8L1872.2 114.7L1808.8 118.0L1747.6 122.1L1691.2 126.9L1637.1 132.5L1587.8 138.7L1538.4 146.1L1489.0 154.8L1442.0 164.5L1397.4 175.2L1357.4 186.5L1324.5 197.3L1308.6 203.3L1294.0 209.4L1280.6 215.5L1268.2 221.8L1256.5 228.3L1245.5 235.2L1235.5 242.1L1226.0 249.3L1216.8 257.1L1208.0 265.3L1199.5 274.0L1191.3 283.2L1183.2 293.1L1175.5 303.6L1167.8 314.8L1160.5 326.5L1153.6 338.6L1147.3 350.8L1141.8 362.8L1136.6 375.2L1132.1 387.6L1128.0 400.4L1122.0 423.0L1116.7 448.3L1112.2 476.7L1108.5 507.1L1105.7 537.5L1103.1 574.6L1094.4 734.2L1089.7 801.8L1086.4 837.4L1082.6 869.4L1078.2 899.3L1073.3 925.9L1067.2 952.9L1060.3 976.5L1052.1 998.8L1042.3 1020.5L1030.4 1042.5L1017.1 1063.5L1009.5 1074.3L1001.8 1084.1L986.5 1101.5L976.4 1111.6L966.2 1120.6L956.0 1128.7L945.8 1135.9L935.6 1142.5L922.9 1149.9L910.1 1156.5L894.9 1163.7L879.6 1170.1L864.3 1176.0L846.5 1182.2L826.1 1188.7L785.3 1200.2L739.5 1211.3L688.6 1221.9L637.6 1230.8L584.2 1238.7L528.1 1245.5L469.5 1251.3L405.9 1256.3L337.1 1260.5L260.7 1264.0L263.3 1267.2L304.0 1266.0L411.0 1261.9L459.4 1259.4L505.2 1256.5L568.9 1251.6L627.4 1245.8L683.5 1239.1L734.4 1231.6L782.8 1223.3L831.2 1213.5L877.0 1202.7L917.8 1191.4L953.4 1179.8L968.7 1174.0L984.0 1167.8L996.7 1162.0L1009.5 1155.6L1022.2 1148.5L1032.9 1141.8L1043.0 1134.9L1052.5 1127.6L1061.8 1119.8L1070.5 1111.7L1079.0 1103.0L1087.4 1093.6L1095.5 1083.7L1103.2 1073.3L1110.8 1062.1L1118.2 1050.3L1125.1 1038.2L1131.4 1026.0L1136.9 1014.1L1142.0 1001.7L1146.6 989.3L1150.7 976.5L1156.7 954.0L1162.0 928.7L1166.5 900.3L1170.2 870.0L1173.0 839.6L1175.6 802.7L1184.4 640.6L1188.9 575.3L1192.3 539.7L1196.1 507.6L1200.5 477.7L1205.3 451.0L1211.5 424.0L1218.4 400.4L1226.6 378.1L1236.3 356.7L1248.4 334.1L1262.0 312.6L1276.7 292.9L1292.1 275.4L1301.3 266.2L1311.0 257.5L1322.1 248.6L1331.5 241.8L1343.3 234.2L1355.0 227.3L1369.1 220.0L1383.3 213.4L1397.4 207.4L1413.8 201.1L1432.6 194.5L1451.4 188.5L1493.7 176.5L1540.8 165.1L1590.1 154.9L1641.8 145.9L1695.9 137.9L1752.3 131.1L1811.1 125.3L1874.6 120.3L1942.8 116.2L2018.0 112.8" stroke="#000" stroke-width="5" stroke-linejoin="round"/>
<path d="M260.7 1267.8L334.0 1264.6L401.4 1261.0L464.8 1256.7L526.3 1251.6L583.8 1245.9L639.3 1239.3L690.8 1232.0L738.3 1224.2L781.9 1215.9L821.6 1207.1L857.3 1197.8L875.1 1192.5L891.0 1187.4L906.8 1181.8L920.7 1176.5L934.6 1170.7L948.4 1164.4L960.3 1158.6L972.2 1152.2L984.1 1145.3L996.0 1137.8L1007.9 1129.6L1019.8 1120.7L1029.7 1112.6L1039.6 1103.9L1049.5 1094.3L1057.1 1086.2L1064.8 1077.2L1071.8 1068.2L1078.0 1059.1L1083.7 1049.7L1088.9 1039.9L1093.9 1029.5L1098.5 1018.4L1102.9 1006.2L1107.2 993.2L1111.3 978.9L1119.2 946.7L1127.3 907.3L1132.2 878.4L1134.7 855.5L1136.2 829.0L1137.4 790.0L1140.7 612.6L1142.3 555.3L1143.2 533.1L1144.4 516.3L1145.9 502.2L1148.2 487.6L1156.0 446.4L1164.1 410.7L1168.1 395.5L1172.1 381.7L1176.3 369.1L1180.7 357.3L1185.3 346.3L1190.2 336.1L1195.4 326.4L1201.0 317.2L1207.2 308.3L1213.9 299.6L1221.2 291.1L1229.2 282.5L1239.1 272.9L1251.0 262.5L1262.9 253.1L1276.8 243.0L1288.7 235.2L1302.5 226.8L1316.4 219.3L1332.3 211.4L1348.1 204.4L1364.0 198.0L1379.8 192.1L1397.7 186.2L1415.5 180.7L1435.3 175.2L1457.1 169.7L1478.9 164.7L1504.7 159.3L1530.4 154.4L1558.2 149.5L1585.9 145.1L1615.7 140.7L1647.4 136.5L1712.8 129.0L1780.2 122.8L1853.5 117.3L1932.8 112.8L2018.0 109.0" stroke="#0072bd" stroke-width="6" stroke-linejoin="round"/>
</g>
<g stroke="#404040" stroke-width="4.5" fill="none">
<path d="M260.7 31.0 V1306.9 H2020.5"/>
<path d="M260.7 127.8 H281"/>
<path d="M260.7 267.9 H281"/>
<path d="M260.7 408.1 H281"/>
<path d="M260.7 548.2 H281"/>
<path d="M260.7 688.4 H281"/>
<path d="M260.7 828.6 H281"/>
<path d="M260.7 968.7 H281"/>
<path d="M260.7 1108.9 H281"/>
<path d="M260.7 1249.0 H281"/>
<path d="M553.6 1306.9 V1287" stroke-width="3.5"/>
<path d="M846.5 1306.9 V1287" stroke-width="3.5"/>
<path d="M1139.3 1306.9 V1287" stroke-width="3.5"/>
<path d="M1432.2 1306.9 V1287" stroke-width="3.5"/>
<path d="M1725.1 1306.9 V1287" stroke-width="3.5"/>
<path d="M2018.0 1306.9 V1287" stroke-width="4.5"/>
</g>
<g font-family="Liberation Serif, Times New Roman, serif" font-size="70" fill="#000">
<text x="232" y="149.3" text-anchor="end">0.8</text>
<text x="232" y="289.4" text-anchor="end">0.6</text>
<text x="232" y="429.6" text-anchor="end">0.4</text>
<text x="232" y="569.7" text-anchor="end">0.2</text>
<text x="232" y="709.9" text-anchor="end">0</text>
<text x="232" y="850.1" text-anchor="end">0.2</text>
<text x="232" y="990.2" text-anchor="end">0.4</text>
<text x="232" y="1130.4" text-anchor="end">0.6</text>
<text x="232" y="1270.5" text-anchor="end">0.8</text>
<text x="319.7" y="1389.3" text-anchor="end">30</text>
<text transform="translate(206.1 1367.5) scale(1.077 1.43)" x="0" y="23.24">&#8722;</text>
<text x="609.7" y="1389.3" text-anchor="end">20</text>
<text transform="translate(496.2 1367.5) scale(1.077 1.43)" x="0" y="23.24">&#8722;</text>
<text x="904.7" y="1389.3" text-anchor="end">10</text>
<text transform="translate(791.2 1367.5) scale(1.077 1.43)" x="0" y="23.24">&#8722;</text>
<text x="1158.3" y="1389.3" text-anchor="end">0</text>
<text x="1467.6" y="1386.3" text-anchor="end">10</text>
<text x="1760.2" y="1386.3" text-anchor="end">20</text>
<text x="2052.8" y="1386.3" text-anchor="end">30</text>
<text transform="translate(100.1 829.0) scale(1.077 1.43)" x="0" y="23.24">&#8722;</text>
<text transform="translate(100.1 969.1) scale(1.077 1.43)" x="0" y="23.24">&#8722;</text>
<text transform="translate(100.1 1109.3) scale(1.077 1.43)" x="0" y="23.24">&#8722;</text>
<text transform="translate(100.1 1249.4) scale(1.077 1.43)" x="0" y="23.24">&#8722;</text>
</g>
<text font-family="Liberation Serif, Times New Roman, serif" font-size="70" x="825" y="1487.9" textLength="648" lengthAdjust="spacing" xml:space="preserve">Magnetic field <tspan font-style="italic">H</tspan> (A/m)</text>
<text font-family="Liberation Serif, Times New Roman, serif" font-size="70" transform="translate(71 1073.5) rotate(-90)" textLength="759" lengthAdjust="spacing" xml:space="preserve">Magnetic flux density <tspan font-style="italic">B</tspan> (T)</text>
<path d="M361.9 120.6 H494.4" stroke="#ff0000" stroke-width="8.5" stroke-dasharray="8.5 5.4"/>
<path d="M361.9 217.8 H493.6" stroke="#262626" stroke-width="6"/>
<path d="M361.9 314.8 H499.2" stroke="#0072bd" stroke-width="7.5"/>
<path d="M437.6 382.6 L456.2 420.3 L419 420.3 Z" fill="#000" stroke="#fff" stroke-width="0.8"/>
<g font-family="Liberation Serif, Times New Roman, serif" font-size="70" fill="#000">
<text x="511" y="145.6" textLength="319" lengthAdjust="spacing">Degaussing</text>
<text x="511" y="239.2" textLength="285" lengthAdjust="spacing">Hysteresis</text>
<text x="518.4" y="334" textLength="277" lengthAdjust="spacing">AM curve</text>
<text x="522.2" y="420.3" textLength="268" lengthAdjust="spacing">End point</text>
</g>
<g stroke="#404040" stroke-width="5">
<line x1="1167.5" y1="236" x2="1167.5" y2="279.8"/>
<line x1="1167.5" y1="294" x2="1167.5" y2="337.8"/>
<line x1="1179.2" y1="234" x2="1223.9" y2="234"/>
<line x1="1237.2" y1="234" x2="1281.9" y2="234"/>
<line x1="1283.2" y1="247.4" x2="1283.2" y2="290.5"/>
<line x1="1283.2" y1="305.5" x2="1283.2" y2="346.5"/>
<line x1="1165" y1="346.5" x2="1209" y2="346.5"/>
<line x1="1223.3" y1="346.5" x2="1266.8" y2="346.5"/>
<line x1="1281" y1="347.5" x2="1380.4" y2="548"/><line x1="1281" y1="347.5" x2="2012.4" y2="548"/>
</g>
<path d="M1225.1 260.4 L1245.2 301 L1205.8 301 Z" fill="#000" stroke="#fff" stroke-width="0.8"/>
<rect x="1380.4" y="548" width="632" height="606.4" fill="#fff"/>
<g clip-path="url(#ci)" fill="none" stroke-linejoin="round">
<path d="M1592.4 533.8 L1588.5 545.2 L1584.5 556.5 L1580.5 567.8 L1576.4 579.1 L1572.3 590.4 L1568.2 601.6 L1564.1 612.9 L1560.0 624.2 L1556.0 635.5 L1552.0 646.9 L1548.1 658.2 L1544.3 669.6 L1540.6 681.0 L1537.0 692.4 L1533.6 703.9 L1530.3 715.4 L1527.1 727.0 L1524.0 738.6 L1520.9 750.2 L1518.0 761.8 L1515.1 773.5 L1512.3 785.1 L1509.5 796.8 L1506.7 808.5 L1503.9 820.1 L1501.0 831.8 L1498.2 843.5 L1495.3 855.1 L1492.3 866.7 L1489.3 878.4 L1486.3 890.0 L1483.2 901.6 L1480.1 913.2 L1477.0 924.7 L1473.9 936.3 L1470.8 947.9 L1467.7 959.5 L1464.6 971.1 L1461.5 982.7 L1458.5 994.3 L1455.5 1005.9 L1452.5 1017.5 L1449.6 1029.2 L1446.7 1040.8 L1443.8 1052.5 L1441.0 1064.1 L1438.1 1075.8 L1435.3 1087.4 L1432.5 1099.1 L1429.7 1110.8 L1426.9 1122.4 L1424.1 1134.1 L1421.2 1145.8 L1418.4 1157.4 L1415.5 1169.1" stroke="#ff0000" stroke-width="8" stroke-dasharray="8 9.5"/>
<path d="M1601.6 533.9 L1597.5 545.2 L1593.4 556.5 L1589.2 567.8 L1585.0 579.1 L1580.8 590.4 L1576.6 601.6 L1572.4 612.9 L1568.2 624.2 L1564.0 635.5 L1559.9 646.8 L1555.9 658.2 L1552.0 669.5 L1548.1 680.9 L1544.4 692.4 L1540.8 703.8 L1537.3 715.3 L1534.0 726.9 L1530.8 738.5 L1527.6 750.1 L1524.5 761.7 L1521.5 773.4 L1518.5 785.0 L1515.6 796.7 L1512.6 808.4 L1509.7 820.1 L1506.7 831.7 L1503.7 843.4 L1500.7 855.0 L1497.6 866.7 L1494.4 878.3 L1491.3 889.9 L1488.1 901.5 L1484.8 913.1 L1481.6 924.7 L1478.4 936.3 L1475.1 947.8 L1471.9 959.4 L1468.7 971.0 L1465.5 982.6 L1462.3 994.2 L1459.2 1005.8 L1456.1 1017.5 L1453.0 1029.1 L1450.0 1040.8 L1447.0 1052.4 L1444.0 1064.1 L1441.0 1075.7 L1438.1 1087.4 L1435.1 1099.1 L1432.2 1110.7 L1429.3 1122.4 L1426.3 1134.1 L1423.3 1145.7 L1420.4 1157.4 L1417.4 1169.0" stroke="#ff0000" stroke-width="8" stroke-dasharray="8 9.5" stroke-dashoffset="6"/>
<path d="M1649.0 543.0 L1647.6 545.9 L1646.2 548.9 L1644.8 551.9 L1643.4 554.8 L1642.0 557.8 L1640.6 560.8 L1639.2 563.7 L1637.8 566.7 L1636.4 569.7 L1634.9 572.6 L1633.5 575.6 L1632.1 578.5 L1630.7 581.5 L1629.4 584.5 L1628.1 587.5 L1626.8 590.5 L1625.6 593.6 L1624.4 596.6 L1623.1 599.7 L1621.8 602.7 L1620.5 605.7 L1619.1 608.6 L1617.7 611.6 L1616.2 614.5 L1614.8 617.5 L1613.4 620.5 L1612.1 623.5 L1610.9 626.5 L1609.6 629.5 L1608.4 632.6 L1607.2 635.6 L1606.0 638.7 L1604.7 641.7 L1603.5 644.7 L1602.2 647.8 L1601.0 650.8 L1599.7 653.8 L1598.5 656.9 L1597.3 660.0 L1596.2 663.0 L1595.0 666.1 L1593.8 669.1 L1592.6 672.2 L1591.4 675.2 L1590.1 678.3 L1588.9 681.3 L1587.6 684.3 L1586.4 687.4 L1585.2 690.4 L1584.0 693.5 L1582.8 696.5 L1581.6 699.6 L1580.5 702.7 L1579.2 705.7 L1578.0 708.7 L1576.7 711.8 L1575.5 714.8 L1574.2 717.8 L1572.9 720.9 L1571.8 723.9 L1570.6 727.0 L1569.5 730.1 L1568.5 733.2 L1567.4 736.3 L1566.3 739.4 L1565.2 742.5 L1564.0 745.5 L1562.8 748.6 L1561.6 751.6 L1560.4 754.7 L1559.2 757.7 L1558.0 760.8 L1556.9 763.9 L1555.9 767.0 L1554.8 770.1 L1553.7 773.2 L1552.6 776.3 L1551.4 779.3 L1550.2 782.4 L1549.0 785.4 L1547.8 788.5 L1546.6 791.5 L1545.5 794.6 L1544.3 797.7 L1543.2 800.8 L1542.1 803.9 L1541.1 807.0 L1540.0 810.1 L1539.0 813.2 L1537.9 816.3 L1536.9 819.4 L1535.9 822.5 L1534.8 825.6 L1533.8 828.7 L1532.7 831.9 L1531.7 835.0 L1530.7 838.1 L1529.6 841.2 L1528.6 844.3 L1527.5 847.4 L1526.5 850.5 L1525.5 853.6 L1524.4 856.8 L1523.4 859.9 L1522.4 863.0 L1521.4 866.1 L1520.4 869.2 L1519.4 872.3 L1518.3 875.5 L1517.3 878.6 L1516.3 881.7 L1515.3 884.8 L1514.3 887.9 L1513.3 891.1 L1512.3 894.2 L1511.2 897.3 L1510.2 900.4 L1509.2 903.5 L1508.2 906.7 L1507.2 909.8 L1506.1 912.9 L1505.1 916.0 L1504.1 919.1 L1503.0 922.2 L1502.0 925.3 L1501.0 928.5 L1500.0 931.6 L1498.9 934.7 L1497.9 937.8 L1496.9 940.9 L1495.9 944.1 L1494.9 947.2 L1493.9 950.3 L1492.9 953.4 L1491.9 956.5 L1490.9 959.7 L1489.9 962.8 L1488.9 965.9 L1488.0 969.1 L1487.0 972.2 L1486.0 975.3 L1485.1 978.5 L1484.1 981.6 L1483.2 984.8 L1482.3 987.9 L1481.4 991.0 L1480.4 994.2 L1479.5 997.3 L1478.6 1000.5 L1477.7 1003.6 L1476.8 1006.8 L1475.9 1010.0 L1475.0 1013.1 L1474.1 1016.3 L1473.2 1019.4 L1472.3 1022.6 L1471.4 1025.7 L1470.5 1028.9 L1469.6 1032.0 L1468.7 1035.2 L1467.8 1038.4 L1466.9 1041.5 L1466.0 1044.7 L1465.1 1047.8 L1464.2 1051.0 L1463.3 1054.1 L1462.4 1057.3 L1461.5 1060.4 L1460.6 1063.6 L1459.7 1066.8 L1458.8 1069.9 L1457.9 1073.1 L1457.0 1076.2 L1456.2 1079.4 L1455.3 1082.5 L1454.4 1085.7 L1453.6 1088.9 L1452.7 1092.0 L1451.9 1095.2 L1451.0 1098.4 L1450.2 1101.6 L1449.4 1104.7 L1448.6 1107.9 L1447.8 1111.1 L1447.0 1114.3 L1446.2 1117.5 L1445.5 1120.7 L1444.8 1123.9 L1444.0 1127.1 L1443.3 1130.3 L1442.6 1133.5 L1441.8 1136.7 L1441.1 1139.9 L1440.4 1143.1 L1439.7 1146.3 L1439.0 1149.5 L1438.2 1152.7 L1437.5 1155.9 L1436.8 1159.0" stroke="#ff0000" stroke-width="8" stroke-dasharray="8 9.5"/>
<path d="M1876.4 543.7 L1873.1 546.2 L1869.8 548.7 L1866.5 551.2 L1863.2 553.7 L1859.9 556.2 L1856.7 558.6 L1853.4 561.1 L1850.1 563.6 L1846.8 566.1 L1843.5 568.6 L1840.3 571.1 L1837.0 573.6 L1833.8 576.2 L1830.5 578.7 L1827.3 581.3 L1824.1 583.8 L1820.9 586.4 L1817.7 589.0 L1814.5 591.6 L1811.3 594.1 L1808.0 596.7 L1804.8 599.2 L1801.6 601.8 L1798.3 604.3 L1795.0 606.8 L1791.8 609.3 L1788.5 611.8 L1785.2 614.2 L1781.9 616.7 L1778.6 619.1 L1775.2 621.6 L1771.9 624.0 L1768.6 626.4 L1765.3 628.9 L1762.0 631.3 L1758.7 633.9 L1755.5 636.4 L1752.3 639.0 L1749.2 641.7 L1746.1 644.4 L1743.1 647.2 L1740.1 650.1 L1737.2 653.0 L1734.4 655.9 L1731.5 658.9 L1728.7 661.9 L1725.8 664.9 L1723.0 667.9 L1720.2 670.9 L1717.3 673.9 L1714.5 676.9 L1711.7 679.9 L1708.9 682.9 L1706.1 685.9 L1703.4 689.0 L1700.7 692.1 L1698.0 695.3 L1695.4 698.5 L1692.9 701.7 L1690.4 705.0 L1688.0 708.3 L1685.6 711.6 L1683.2 715.0 L1680.8 718.3 L1678.4 721.7 L1676.1 725.1 L1673.7 728.5 L1671.4 731.9 L1669.0 735.2 L1666.7 738.6 L1664.3 742.0 L1662.0 745.4 L1659.6 748.7 L1657.3 752.1 L1654.9 755.5 L1652.6 758.9 L1650.2 762.3 L1647.9 765.7 L1645.6 769.1 L1643.3 772.5 L1641.0 776.0 L1638.8 779.4 L1636.6 782.9 L1634.5 786.4 L1632.4 790.0 L1630.3 793.5 L1628.3 797.1 L1626.3 800.7 L1624.3 804.3 L1622.3 807.9 L1620.3 811.5 L1618.3 815.1 L1616.3 818.7 L1614.2 822.3 L1612.1 825.8 L1610.0 829.3 L1607.9 832.9 L1605.8 836.4 L1603.7 840.0 L1601.6 843.5 L1599.6 847.1 L1597.7 850.7 L1595.7 854.4 L1593.9 858.0 L1592.1 861.7 L1590.3 865.4 L1588.5 869.1 L1586.8 872.9 L1585.0 876.6 L1583.3 880.3 L1581.5 884.0 L1579.7 887.7 L1577.8 891.4 L1575.9 895.1 L1574.1 898.7 L1572.2 902.4 L1570.3 906.1 L1568.5 909.7 L1566.6 913.4 L1564.8 917.1 L1563.1 920.9 L1561.4 924.6 L1559.7 928.4 L1558.1 932.2 L1556.5 936.0 L1555.0 939.8 L1553.4 943.6 L1551.8 947.4 L1550.3 951.2 L1548.7 955.0 L1547.1 958.8 L1545.6 962.6 L1544.0 966.4 L1542.4 970.2 L1540.8 974.0 L1539.3 977.8 L1537.7 981.6 L1536.2 985.4 L1534.6 989.3 L1533.1 993.1 L1531.6 996.9 L1530.1 1000.7 L1528.6 1004.6 L1527.1 1008.4 L1525.6 1012.3 L1524.1 1016.1 L1522.6 1019.9 L1521.1 1023.8 L1519.6 1027.6 L1518.1 1031.4 L1516.6 1035.3 L1515.1 1039.1 L1513.7 1043.0 L1512.2 1046.8 L1510.7 1050.6 L1509.3 1054.5 L1507.9 1058.4 L1506.5 1062.2 L1505.1 1066.1 L1503.7 1070.0 L1502.4 1073.9 L1501.0 1077.8 L1499.6 1081.7 L1498.3 1085.5 L1496.9 1089.4 L1495.6 1093.3 L1494.2 1097.2 L1492.8 1101.1 L1491.5 1105.0 L1490.1 1108.8 L1488.7 1112.7 L1487.3 1116.6 L1486.0 1120.5 L1484.6 1124.4 L1483.3 1128.3 L1482.0 1132.2 L1480.6 1136.1 L1479.3 1140.0 L1478.0 1143.9 L1476.7 1147.8 L1475.4 1151.7 L1474.1 1155.6 L1472.8 1159.5" stroke="#ff0000" stroke-width="8" stroke-dasharray="8 9.5"/>
<path d="M1619.0 1157.0 L1621.2 1153.4 L1624.0 1150.0 L1626.7 1146.6 L1629.5 1143.2 L1632.2 1139.8 L1634.9 1136.3 L1637.6 1132.9 L1640.3 1129.4 L1643.0 1126.0 L1645.7 1122.5 L1648.3 1119.0 L1651.0 1115.6 L1653.6 1112.1 L1656.3 1108.6 L1658.9 1105.1 L1661.6 1101.6 L1664.2 1098.1 L1666.8 1094.6 L1669.4 1091.1 L1672.1 1087.6 L1674.7 1084.1 L1677.3 1080.5 L1679.9 1077.0 L1682.4 1073.5 L1685.0 1069.9 L1687.5 1066.3 L1690.0 1062.7 L1692.4 1059.1 L1694.9 1055.4 L1697.3 1051.8 L1699.6 1048.1 L1702.0 1044.4 L1704.4 1040.7 L1706.7 1037.0 L1709.0 1033.3 L1711.4 1029.6 L1713.7 1025.9 L1716.1 1022.2 L1718.4 1018.5 L1720.8 1014.8 L1723.1 1011.1 L1725.4 1007.4 L1727.8 1003.7 L1730.1 1000.0 L1732.4 996.3 L1734.7 992.6 L1737.1 988.9 L1739.4 985.2 L1741.6 981.4 L1743.9 977.7 L1746.2 973.9 L1748.4 970.2 L1750.6 966.4 L1752.8 962.6 L1755.0 958.8 L1757.2 955.0 L1759.4 951.2 L1761.6 947.5 L1763.8 943.7 L1766.0 939.9 L1768.2 936.1 L1770.4 932.3 L1772.6 928.6 L1774.9 924.8 L1777.1 921.0 L1779.3 917.2 L1781.5 913.5 L1783.7 909.7 L1785.8 905.8 L1787.9 902.0 L1790.0 898.1 L1792.1 894.3 L1794.1 890.4 L1796.1 886.5 L1798.1 882.6 L1800.2 878.7 L1802.2 874.9 L1804.3 871.0 L1806.4 867.2 L1808.5 863.4 L1810.7 859.5 L1812.8 855.7 L1815.0 851.9 L1817.1 848.1 L1819.2 844.3 L1821.3 840.4 L1823.4 836.6 L1825.5 832.7 L1827.5 828.8 L1829.5 824.9 L1831.5 821.0 L1833.5 817.1 L1835.5 813.2 L1837.5 809.3 L1839.4 805.4 L1841.4 801.5 L1843.4 797.6 L1845.5 793.8 L1847.5 789.9 L1849.5 786.0 L1851.5 782.1 L1853.5 778.2 L1855.5 774.3 L1857.5 770.4 L1859.5 766.5 L1861.5 762.6 L1863.4 758.7 L1865.4 754.8 L1867.3 750.8 L1869.2 746.9 L1871.1 743.0 L1873.0 739.0 L1869.6 740.7 L1866.3 742.5 L1863.0 744.5 L1859.8 746.5 L1856.6 748.5 L1853.5 750.7 L1850.4 752.9 L1847.4 755.2 L1844.4 757.5 L1841.5 759.9 L1838.5 762.3 L1835.6 764.7 L1832.6 767.1 L1829.7 769.5 L1826.8 771.9 L1823.8 774.3 L1820.9 776.7 L1817.9 779.0 L1814.9 781.4 L1812.0 783.7 L1809.0 786.1 L1806.0 788.4 L1803.0 790.8 L1800.1 793.1 L1797.1 795.5 L1794.2 797.9 L1791.2 800.3 L1788.3 802.7 L1785.4 805.1 L1782.5 807.5 L1779.6 810.0 L1776.7 812.4 L1773.7 814.8 L1770.8 817.2 L1767.9 819.7 L1765.0 822.1 L1762.1 824.5 L1759.2 827.0 L1756.3 829.4 L1753.4 831.8 L1750.5 834.3 L1747.6 836.8 L1744.8 839.3 L1741.9 841.8 L1739.1 844.3 L1736.3 846.9 L1733.5 849.4 L1730.8 852.0 L1728.0 854.6 L1725.3 857.2 L1722.5 859.8 L1719.7 862.4 L1717.0 865.0 L1714.2 867.6 L1711.4 870.1 L1708.5 872.6 L1705.7 875.1 L1702.8 877.6 L1700.0 880.1 L1697.1 882.6 L1694.3 885.2 L1691.5 887.7 L1688.7 890.3 L1686.0 893.0 L1683.4 895.7 L1680.8 898.4 L1678.2 901.2 L1675.6 904.0 L1673.1 906.8 L1670.7 909.7 L1668.2 912.6 L1665.8 915.5 L1663.4 918.4 L1661.0 921.4 L1658.5 924.3 L1656.1 927.2 L1653.7 930.2 L1651.3 933.1 L1648.8 936.0 L1646.3 938.9 L1643.8 941.7 L1641.3 944.5 L1638.7 947.3 L1636.1 950.1 L1633.5 952.8 L1630.8 955.4 L1628.0 958.0 L1630.0 955.7 L1632.0 953.4 L1634.0 951.1 L1636.1 948.8 L1638.1 946.5 L1640.1 944.2 L1642.2 941.9 L1644.2 939.6 L1646.3 937.3 L1648.3 935.0 L1650.4 932.8 L1652.4 930.5 L1654.5 928.3 L1656.6 926.0 L1658.7 923.8 L1660.8 921.5 L1662.9 919.3 L1665.0 917.1 L1667.1 914.8 L1669.2 912.6 L1671.3 910.4 L1673.5 908.2 L1675.6 906.0" stroke="#ff0000" stroke-width="8" stroke-dasharray="8 9.5"/>
<path d="M2012.8 645.7 L2011.4 649.4 L2010.0 653.2 L2008.6 657.0 L2007.2 660.7 L2005.8 664.5 L2004.4 668.3 L2003.0 672.0 L2001.5 675.8 L2000.1 679.6 L1998.7 683.4 L1997.3 687.1 L1995.9 690.9 L1994.5 694.7 L1993.1 698.4 L1991.7 702.2 L1990.3 706.0 L1988.9 709.8 L1987.5 713.5 L1986.1 717.3 L1984.7 721.1 L1983.3 724.8 L1981.9 728.6 L1980.5 732.4 L1979.1 736.2 L1977.7 739.9 L1976.3 743.7 L1974.9 747.5 L1973.5 751.2 L1972.1 755.0 L1970.7 758.8 L1969.4 762.6 L1968.1 766.4 L1966.7 770.2 L1965.4 774.0 L1964.1 777.8 L1962.8 781.6 L1961.5 785.4 L1960.2 789.2 L1958.9 793.0 L1957.6 796.8 L1956.3 800.6 L1955.0 804.4 L1953.6 808.2 L1952.3 812.0 L1950.9 815.8 L1949.5 819.6 L1948.2 823.4 L1946.8 827.2 L1945.4 830.9 L1944.1 834.7 L1942.7 838.5 L1941.3 842.3 L1940.0 846.1 L1938.6 849.9 L1937.2 853.6 L1935.9 857.4 L1934.5 861.2 L1933.2 865.0 L1931.9 868.8 L1930.5 872.6 L1929.2 876.4 L1927.9 880.2 L1926.6 884.0 L1925.4 887.9 L1924.1 891.7 L1922.9 895.5 L1921.6 899.3 L1920.4 903.2 L1919.2 907.0 L1918.0 910.8 L1916.8 914.7 L1915.6 918.5 L1914.4 922.4 L1913.2 926.2 L1912.0 930.1 L1910.8 933.9 L1909.5 937.7 L1908.2 941.5 L1906.9 945.3 L1905.6 949.1 L1904.2 952.9 L1902.9 956.7 L1901.5 960.5 L1900.2 964.3 L1898.8 968.1 L1897.5 971.9 L1896.2 975.7 L1894.9 979.5 L1893.6 983.3 L1892.4 987.1 L1891.2 991.0 L1889.9 994.8 L1888.7 998.6 L1887.5 1002.5 L1886.3 1006.3 L1885.1 1010.1 L1883.9 1014.0 L1882.6 1017.8 L1881.4 1021.6 L1880.2 1025.5 L1878.9 1029.3 L1877.7 1033.1 L1876.4 1036.9 L1875.2 1040.8 L1873.9 1044.6 L1872.6 1048.4 L1871.4 1052.2 L1870.1 1056.0 L1868.9 1059.9 L1867.6 1063.7 L1866.4 1067.5 L1865.1 1071.3 L1863.9 1075.2 L1862.8 1079.0 L1861.6 1082.9 L1860.5 1086.7 L1859.3 1090.6 L1858.2 1094.5 L1857.1 1098.3 L1856.0 1102.2 L1854.9 1106.1 L1853.7 1109.9 L1852.6 1113.8 L1851.4 1117.6 L1850.3 1121.5 L1849.1 1125.3 L1847.8 1129.2 L1846.6 1133.0 L1845.4 1136.8 L1844.2 1140.7 L1843.0 1144.5 L1841.7 1148.3 L1840.5 1152.2 L1839.3 1156.0 L1838.1 1159.8" stroke="#ff0000" stroke-width="8" stroke-dasharray="8 9.5"/>
<path d="M2009.3 817.4 L2007.6 822.1 L2005.9 826.9 L2004.2 831.7 L2002.6 836.4 L2001.0 841.2 L1999.4 846.0 L1997.9 850.8 L1996.3 855.7 L1994.9 860.5 L1993.4 865.3 L1991.9 870.1 L1990.5 875.0 L1989.1 879.8 L1987.7 884.7 L1986.3 889.5 L1984.9 894.4 L1983.5 899.3 L1982.2 904.1 L1980.8 909.0 L1979.4 913.8 L1978.1 918.7 L1976.7 923.6 L1975.3 928.4 L1974.0 933.3 L1972.7 938.1 L1971.3 943.0 L1970.0 947.9 L1968.7 952.8 L1967.4 957.6 L1966.1 962.5 L1964.9 967.4 L1963.6 972.3 L1962.4 977.2 L1961.2 982.1 L1960.0 987.0 L1958.8 991.9 L1957.6 996.8 L1956.3 1001.7 L1955.1 1006.6 L1953.9 1011.5 L1952.7 1016.4 L1951.4 1021.3 L1950.2 1026.2 L1948.9 1031.1 L1947.7 1036.0 L1946.4 1040.9 L1945.2 1045.8 L1944.0 1050.7 L1942.8 1055.6 L1941.6 1060.5 L1940.5 1065.4 L1939.3 1070.3 L1938.2 1075.2 L1937.1 1080.2 L1936.0 1085.1 L1934.9 1090.0 L1933.8 1095.0 L1932.8 1099.9 L1931.7 1104.8 L1930.6 1109.8 L1929.5 1114.7 L1928.4 1119.6 L1927.3 1124.5 L1926.2 1129.5 L1925.1 1134.4 L1924.0 1139.3 L1922.9 1144.3 L1921.8 1149.2 L1920.7 1154.1 L1919.6 1159.0 L1918.5 1164.0" stroke="#ff0000" stroke-width="8" stroke-dasharray="8 9.5"/>
<path d="M1586.4 533.8 L1582.5 545.2 L1578.5 556.5 L1574.5 567.8 L1570.4 579.1 L1566.3 590.4 L1562.2 601.6 L1558.1 612.9 L1554.0 624.2 L1550.0 635.5 L1546.0 646.9 L1542.1 658.2 L1538.3 669.6 L1534.6 681.0 L1531.0 692.4 L1527.6 703.9 L1524.3 715.4 L1521.1 727.0 L1518.0 738.6 L1514.9 750.2 L1512.0 761.8 L1509.1 773.5 L1506.3 785.1 L1503.5 796.8 L1500.7 808.5 L1497.9 820.1 L1495.0 831.8 L1492.2 843.5 L1489.3 855.1 L1486.3 866.7 L1483.3 878.4 L1480.3 890.0 L1477.2 901.6 L1474.1 913.2 L1471.0 924.7 L1467.9 936.3 L1464.8 947.9 L1461.7 959.5 L1458.6 971.1 L1455.5 982.7 L1452.5 994.3 L1449.5 1005.9 L1446.5 1017.5 L1443.6 1029.2 L1440.7 1040.8 L1437.8 1052.5 L1435.0 1064.1 L1432.1 1075.8 L1429.3 1087.4 L1426.5 1099.1 L1423.7 1110.8 L1420.9 1122.4 L1418.1 1134.1 L1415.2 1145.8 L1412.4 1157.4 L1409.5 1169.1" stroke="#000" stroke-width="6.5"/>
<path d="M2012.3 817.4 L2010.6 822.1 L2008.9 826.9 L2007.2 831.7 L2005.6 836.4 L2004.0 841.2 L2002.4 846.0 L2000.9 850.8 L1999.3 855.7 L1997.9 860.5 L1996.4 865.3 L1994.9 870.1 L1993.5 875.0 L1992.1 879.8 L1990.7 884.7 L1989.3 889.5 L1987.9 894.4 L1986.5 899.3 L1985.2 904.1 L1983.8 909.0 L1982.4 913.8 L1981.1 918.7 L1979.7 923.6 L1978.3 928.4 L1977.0 933.3 L1975.7 938.1 L1974.3 943.0 L1973.0 947.9 L1971.7 952.8 L1970.4 957.6 L1969.1 962.5 L1967.9 967.4 L1966.6 972.3 L1965.4 977.2 L1964.2 982.1 L1963.0 987.0 L1961.8 991.9 L1960.6 996.8 L1959.3 1001.7 L1958.1 1006.6 L1956.9 1011.5 L1955.7 1016.4 L1954.4 1021.3 L1953.2 1026.2 L1951.9 1031.1 L1950.7 1036.0 L1949.4 1040.9 L1948.2 1045.8 L1947.0 1050.7 L1945.8 1055.6 L1944.6 1060.5 L1943.5 1065.4 L1942.3 1070.3 L1941.2 1075.2 L1940.1 1080.2 L1939.0 1085.1 L1937.9 1090.0 L1936.8 1095.0 L1935.8 1099.9 L1934.7 1104.8 L1933.6 1109.8 L1932.5 1114.7 L1931.4 1119.6 L1930.3 1124.5 L1929.2 1129.5 L1928.1 1134.4 L1927.0 1139.3 L1925.9 1144.3 L1924.8 1149.2 L1923.7 1154.1 L1922.6 1159.0 L1921.5 1164.0" stroke="#000" stroke-width="6.5"/>
<path d="M1787.3 533.7 L1783.8 545.1 L1780.2 556.6 L1776.7 568.0 L1773.2 579.5 L1769.6 590.9 L1766.0 602.4 L1762.5 613.8 L1758.9 625.3 L1755.4 636.8 L1751.9 648.2 L1748.4 659.7 L1744.9 671.2 L1741.4 682.6 L1738.0 694.1 L1734.6 705.6 L1731.2 717.1 L1727.9 728.6 L1724.5 740.2 L1721.2 751.7 L1717.9 763.2 L1714.6 774.7 L1711.3 786.3 L1708.0 797.8 L1704.7 809.3 L1701.5 820.9 L1698.2 832.4 L1694.9 843.9 L1691.6 855.5 L1688.3 867.0 L1685.0 878.5 L1681.8 890.1 L1678.5 901.6 L1675.3 913.2 L1672.0 924.7 L1668.8 936.3 L1665.6 947.8 L1662.5 959.4 L1659.4 971.0 L1656.3 982.6 L1653.3 994.2 L1650.3 1005.8 L1647.4 1017.4 L1644.5 1029.1 L1641.7 1040.7 L1638.9 1052.4 L1636.1 1064.0 L1633.3 1075.7 L1630.6 1087.4 L1627.9 1099.0 L1625.2 1110.7 L1622.4 1122.4 L1619.7 1134.1 L1617.0 1145.8 L1614.2 1157.4 L1611.4 1169.1" stroke="#0072bd" stroke-width="6"/>
</g>
<path d="M1675.6 886.4 L1695.8 925.8 L1655.7 925.8 Z" fill="#000" stroke="#fff" stroke-width="0.8"/>
<rect x="1380.4" y="548" width="632" height="606.4" fill="none" stroke="#6e6e6e" stroke-width="3"/>
<g stroke="#6e6e6e" stroke-width="2.5">
<line x1="1380.4" y1="669.3" x2="1388" y2="669.3"/><line x1="2012.4" y1="669.3" x2="2004.8" y2="669.3"/>
<line x1="1380.4" y1="790.6" x2="1388" y2="790.6"/><line x1="2012.4" y1="790.6" x2="2004.8" y2="790.6"/>
<line x1="1380.4" y1="911.8" x2="1388" y2="911.8"/><line x1="2012.4" y1="911.8" x2="2004.8" y2="911.8"/>
<line x1="1380.4" y1="1033.1" x2="1388" y2="1033.1"/><line x1="2012.4" y1="1033.1" x2="2004.8" y2="1033.1"/>
<line x1="1538.4" y1="1154.4" x2="1538.4" y2="1146.8"/><line x1="1538.4" y1="548" x2="1538.4" y2="555.6"/>
<line x1="1696.4" y1="1154.4" x2="1696.4" y2="1146.8"/><line x1="1696.4" y1="548" x2="1696.4" y2="555.6"/>
<line x1="1854.4" y1="1154.4" x2="1854.4" y2="1146.8"/><line x1="1854.4" y1="548" x2="1854.4" y2="555.6"/>
</g>
<g font-family="Liberation Serif, Times New Roman, serif" font-size="68" fill="#2e2e2e" stroke="#fff" stroke-width="1.0">
<text x="1356.5" y="573.0" text-anchor="end">0.6</text>
<text x="1356.5" y="694.3" text-anchor="end">0.59</text>
<text x="1356.5" y="815.6" text-anchor="end">0.58</text>
<text x="1356.5" y="936.8" text-anchor="end">0.57</text>
<text x="1356.5" y="1058.1" text-anchor="end">0.56</text>
<text x="1356.5" y="1179.4" text-anchor="end">0.55</text>
<text x="1380.4" y="1241" text-anchor="middle">1</text>
<text x="1538.4" y="1241" text-anchor="middle">2</text>
<text x="1696.4" y="1241" text-anchor="middle">3</text>
<text x="1854.4" y="1241" text-anchor="middle">4</text>
<text x="2012.4" y="1241" text-anchor="middle">5</text>
</g>
</svg></body></html>
